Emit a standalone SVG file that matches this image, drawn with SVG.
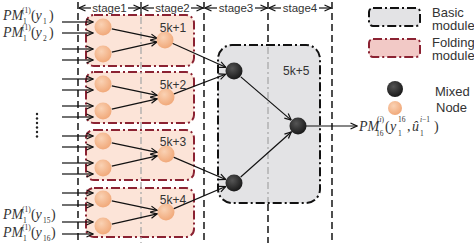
<svg xmlns="http://www.w3.org/2000/svg" width="474" height="243" viewBox="0 0 474 243">
<defs>
<style>
.vl{stroke:#222;stroke-width:1.6;stroke-dasharray:7 4;fill:none}
.vg{stroke:#aaa;stroke-width:1.3;stroke-dasharray:7 3 2 3;fill:none}
.fold{fill:#FCE4D8;stroke:#8B2232;stroke-width:2;stroke-dasharray:9 3 2 3}
.basic{fill:#E3E3E5;stroke:#111;stroke-width:2;stroke-dasharray:9 3 2 3}
.cn{stroke:#111;stroke-width:1.2;fill:none;marker-end:url(#arr)}
.on{fill:url(#og)}
.bn{fill:url(#bg)}
.st{font-family:"Liberation Sans",Arial,sans-serif;font-size:11.5px;fill:#333}
.lb{font-family:"Liberation Sans",Arial,sans-serif;font-size:12px;fill:#333}
.lg{font-family:"Liberation Sans",Arial,sans-serif;font-size:13px;fill:#333}
.m{font-family:"Liberation Serif","Times New Roman",serif;font-size:14px;fill:#333}
.i{font-style:italic}
.s{font-size:7.5px}
</style>
<marker id="arr" viewBox="0 0 8 8" refX="7.5" refY="4" markerWidth="8" markerHeight="8" markerUnits="userSpaceOnUse" orient="auto">
<path d="M1,1 L7.5,4 L1,7" fill="none" stroke="#111" stroke-width="1.2"/>
</marker>
<radialGradient id="og" cx="0.4" cy="0.35" r="0.7">
<stop offset="0" stop-color="#FAD2B4"/>
<stop offset="1" stop-color="#F0A676"/>
</radialGradient>
<radialGradient id="bg" cx="0.4" cy="0.35" r="0.7">
<stop offset="0" stop-color="#555"/>
<stop offset="1" stop-color="#151515"/>
</radialGradient>
</defs>

<!-- folding modules -->
<g id="folding1"><rect class="fold" x="86" y="15" width="108" height="51" rx="8"/></g>
<g id="folding2"><rect class="fold" x="86" y="72" width="108" height="51" rx="8"/></g>
<g id="folding3"><rect class="fold" x="86" y="130" width="108" height="50" rx="8"/></g>
<g id="folding4"><rect class="fold" x="86" y="188" width="108" height="49" rx="8"/></g>

<!-- basic module -->
<g id="basic"><rect class="basic" x="218" y="45" width="102" height="158" rx="14"/></g>

<!-- stage lines -->
<g id="stage-lines">
<line class="vl" x1="78" y1="2" x2="78" y2="243"/>
<line class="vg" x1="141" y1="2" x2="141" y2="243"/>
<line x1="141" y1="2" x2="141" y2="14" stroke="#333" stroke-width="1.4"/>
<line class="vl" x1="204" y1="2" x2="204" y2="243"/>
<line class="vl" x1="268" y1="2" x2="268" y2="46"/>
<line class="vg" x1="268" y1="47" x2="268" y2="202"/>
<line class="vl" x1="268" y1="204" x2="268" y2="243"/>
<line class="vl" x1="332" y1="2" x2="332" y2="243"/>
</g>

<!-- stage labels -->
<g id="stage-labels">
<text class="st" x="109.5" y="12" text-anchor="middle">stage1</text>
<text class="st" x="172.5" y="12" text-anchor="middle">stage2</text>
<text class="st" x="236" y="12" text-anchor="middle">stage3</text>
<text class="st" x="300" y="12" text-anchor="middle">stage4</text>
</g>

<g id="connectors">
<!-- stage label arrows -->
<line class="cn" x1="91" y1="8" x2="79" y2="8"/>
<line class="cn" x1="128" y1="8" x2="140" y2="8"/>
<line class="cn" x1="154" y1="8" x2="142" y2="8"/>
<line class="cn" x1="191" y1="8" x2="203" y2="8"/>
<line class="cn" x1="217" y1="8" x2="205" y2="8"/>
<line class="cn" x1="255" y1="8" x2="267" y2="8"/>
<line class="cn" x1="281" y1="8" x2="269" y2="8"/>
<line class="cn" x1="319" y1="8" x2="331" y2="8"/>
<!-- inputs -->
<line class="cn" x1="62" y1="22" x2="93" y2="22"/>
<line class="cn" x1="62" y1="33" x2="93" y2="33"/>
<line class="cn" x1="62" y1="49" x2="93" y2="49"/>
<line class="cn" x1="62" y1="60" x2="93" y2="60"/>
<line class="cn" x1="62" y1="79" x2="93" y2="79"/>
<line class="cn" x1="62" y1="90" x2="93" y2="90"/>
<line class="cn" x1="62" y1="106" x2="93" y2="106"/>
<line class="cn" x1="62" y1="117" x2="93" y2="117"/>
<line class="cn" x1="62" y1="136" x2="93" y2="136"/>
<line class="cn" x1="62" y1="147" x2="93" y2="147"/>
<line class="cn" x1="62" y1="163" x2="93" y2="163"/>
<line class="cn" x1="62" y1="174" x2="93" y2="174"/>
<line class="cn" x1="62" y1="193" x2="93" y2="193"/>
<line class="cn" x1="62" y1="205" x2="93" y2="205"/>
<line class="cn" x1="62" y1="222" x2="93" y2="222"/>
<line class="cn" x1="62" y1="234" x2="93" y2="234"/>
<!-- stage1 -> stage2 -->
<line class="cn" x1="111.8" y1="28.8" x2="157.2" y2="38.4"/>
<line class="cn" x1="111.8" y1="52.1" x2="157.2" y2="41.8"/>
<line class="cn" x1="111.8" y1="85.8" x2="157.2" y2="95.4"/>
<line class="cn" x1="111.8" y1="109.1" x2="157.2" y2="98.8"/>
<line class="cn" x1="111.8" y1="142.8" x2="157.2" y2="152.4"/>
<line class="cn" x1="111.8" y1="166.1" x2="157.2" y2="155.8"/>
<line class="cn" x1="111.8" y1="200.8" x2="157.2" y2="210.4"/>
<line class="cn" x1="111.8" y1="224.1" x2="157.2" y2="213.8"/>
<!-- stage2 -> stage3 -->
<line class="cn" x1="172.3" y1="43.3" x2="225.8" y2="67.3"/>
<line class="cn" x1="173.5" y1="94.1" x2="225.6" y2="74.3"/>
<line class="cn" x1="173.4" y1="157.1" x2="225.7" y2="179.5"/>
<line class="cn" x1="173.4" y1="208.9" x2="225.7" y2="186.5"/>
<!-- stage3 -> stage4 -->
<line class="cn" x1="240.8" y1="76.9" x2="291.2" y2="120.1"/>
<line class="cn" x1="240.7" y1="177" x2="291.3" y2="132"/>
<!-- output -->
<line class="cn" x1="306" y1="126" x2="357" y2="126"/>
</g>

<!-- stage1 nodes -->
<g id="n1a"><circle class="on" cx="103" cy="27" r="8.5"/></g>
<g id="n1b"><circle class="on" cx="103" cy="54" r="8.5"/></g>
<g id="n2a"><circle class="on" cx="103" cy="84" r="8.5"/></g>
<g id="n2b"><circle class="on" cx="103" cy="111" r="8.5"/></g>
<g id="n3a"><circle class="on" cx="103" cy="141" r="8.5"/></g>
<g id="n3b"><circle class="on" cx="103" cy="168" r="8.5"/></g>
<g id="n4a"><circle class="on" cx="103" cy="199" r="8.5"/></g>
<g id="n4b"><circle class="on" cx="103" cy="226" r="8.5"/></g>
<!-- stage2 nodes -->
<g id="s2n1"><circle class="on" cx="165" cy="40" r="8.5"/><text class="lb" x="173" y="32" text-anchor="middle">5k+1</text></g>
<g id="s2n2"><circle class="on" cx="166" cy="97" r="8.5"/><text class="lb" x="173" y="89" text-anchor="middle">5k+2</text></g>
<g id="s2n3"><circle class="on" cx="166" cy="154" r="8.5"/><text class="lb" x="173" y="146" text-anchor="middle">5k+3</text></g>
<g id="s2n4"><circle class="on" cx="166" cy="212" r="8.5"/><text class="lb" x="173" y="204" text-anchor="middle">5k+4</text></g>
<!-- stage3/4 nodes -->
<g id="s3n1"><circle class="bn" cx="234" cy="71" r="8.5"/></g>
<g id="s3n2"><circle class="bn" cx="234" cy="183" r="8.5"/></g>
<g id="s4n1"><circle class="bn" cx="298" cy="126" r="8.5"/></g>
<text class="lb" x="283" y="75">5k+5</text>

<!-- input labels -->
<g id="in1"><text class="m"><tspan class="i" x="3" y="20">PM</tspan><tspan class="s" x="22" y="13">(1)</tspan><tspan class="s" x="23" y="24">1</tspan><tspan x="31" y="20">(</tspan><tspan class="i" x="35.5" y="20">y</tspan><tspan class="s" x="43" y="24">1</tspan><tspan x="49" y="20">)</tspan></text></g>
<g id="in2"><text class="m"><tspan class="i" x="3" y="37">PM</tspan><tspan class="s" x="22" y="30">(1)</tspan><tspan class="s" x="23" y="41">1</tspan><tspan x="31" y="37">(</tspan><tspan class="i" x="35.5" y="37">y</tspan><tspan class="s" x="43" y="41">2</tspan><tspan x="49" y="37">)</tspan></text></g>
<g id="in15"><text class="m"><tspan class="i" x="3" y="219">PM</tspan><tspan class="s" x="22" y="212">(1)</tspan><tspan class="s" x="23" y="223">1</tspan><tspan x="31" y="219">(</tspan><tspan class="i" x="35.5" y="219">y</tspan><tspan class="s" x="43" y="223">15</tspan><tspan x="51" y="219">)</tspan></text></g>
<g id="in16"><text class="m"><tspan class="i" x="3" y="237">PM</tspan><tspan class="s" x="22" y="230">(1)</tspan><tspan class="s" x="23" y="241">1</tspan><tspan x="31" y="237">(</tspan><tspan class="i" x="35.5" y="237">y</tspan><tspan class="s" x="43" y="241">16</tspan><tspan x="51" y="237">)</tspan></text></g>
<g id="dots" fill="#222">
<circle cx="37" cy="114" r="1.2"/><circle cx="37" cy="118.5" r="1.2"/><circle cx="37" cy="123" r="1.2"/><circle cx="37" cy="127.5" r="1.2"/><circle cx="37" cy="132" r="1.2"/><circle cx="37" cy="136.5" r="1.2"/>
</g>

<!-- output label -->
<g id="out"><text class="m"><tspan class="i" x="359" y="131">PM</tspan><tspan class="s" x="377" y="122">(<tspan class="i">i</tspan>)</tspan><tspan class="s" x="376" y="136">16</tspan><tspan x="385" y="131">(</tspan><tspan class="i" x="390" y="131">y</tspan><tspan class="s" x="398" y="122">16</tspan><tspan class="s" x="398" y="136">1</tspan><tspan x="407" y="131">,</tspan><tspan class="i" x="412" y="131">û</tspan><tspan class="s" x="420" y="122"><tspan class="i">i</tspan>−1</tspan><tspan class="s" x="420" y="136">1</tspan><tspan x="434" y="131">)</tspan></text></g>

<!-- legend -->
<g id="legend-basic"><rect class="basic" x="369" y="8" width="51" height="18" rx="4"/><text class="lg" x="432" y="17">Basic</text><text class="lg" x="432" y="30">module</text></g>
<g id="legend-folding"><rect x="369" y="39" width="51" height="18" rx="4" fill="#F2C9C6" stroke="#8B2232" stroke-width="2" stroke-dasharray="9 3 2 3"/><text class="lg" x="432" y="47">Folding</text><text class="lg" x="432" y="60">module</text></g>
<g id="legend-nodes"><circle class="bn" cx="395" cy="89" r="8"/><circle class="on" cx="395" cy="108" r="7"/><text class="lg" x="435" y="96">Mixed</text><text class="lg" x="436" y="112">Node</text></g>
</svg>
